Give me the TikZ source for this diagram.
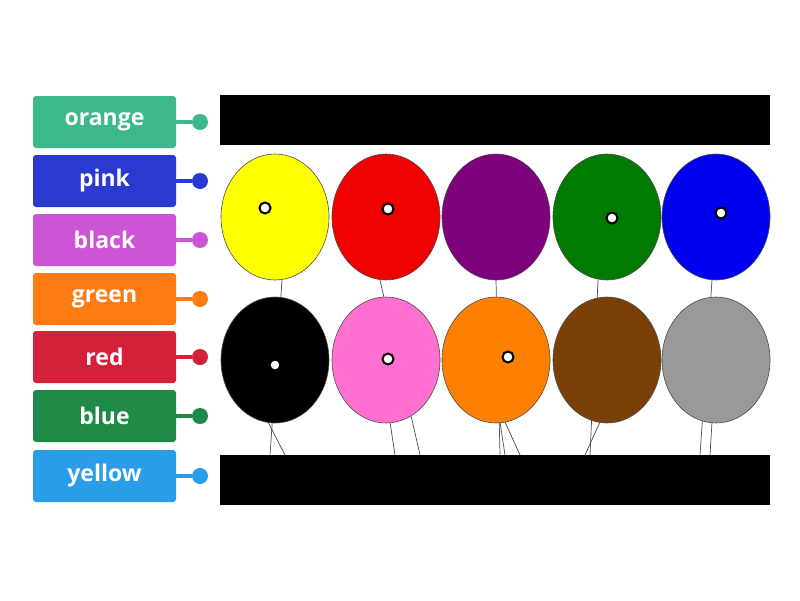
\documentclass[tikz,border=0pt]{standalone}
\usepackage{fontspec}
\setmainfont{Open Sans}
\begin{document}
\begin{tikzpicture}[x=1pt,y=-1pt,
 lab/.style={rounded corners=3pt,minimum width=143pt,minimum height=52pt,text=white,font=\bfseries\fontsize{23}{24}\selectfont},
 hole/.style={circle,draw=black,fill=white,line width=2pt,minimum size=11pt,inner sep=0pt},
 str/.style={black!70,line width=0.7pt}]
\useasboundingbox (0,0) rectangle (800,600);
\fill[white] (0,0) rectangle (800,600);
\foreach \n/\t/\c/\y in {a/orange/3BB98A/122,b/pink/2A3AD0/181,c/black/CC55D6/240,d/green/FF7B14/299,e/red/D4203A/357,f/blue/1F8A48/416,g/yellow/2A9DE8/476}{
 \definecolor{c\n}{HTML}{\c}
 \node[lab,fill=c\n] (l\n) at (104.5,\y) {\t};
 \node[circle,fill=c\n,minimum size=16pt,inner sep=0pt] (d\n) at (200,\y) {};
 \draw[c\n,line width=4pt] (l\n.east) -- (d\n);
}
\foreach \xa/\xb in {282/270,380/420,496/500,598/590,712/700}{\draw[str] (\xa,280) -- (\xb,455);}
\foreach \xa/\xb in {268/285,390/395,500/505,600/585,712/710}{\draw[str] (\xa,422) -- (\xb,455);}
\draw[str] (505,422) -- (520,455);
\foreach \x/\y/\c [count=\i] in {275/217/FFFF00,386/217/F00000,496/217/7D007D,607/217/007A00,716/217/0000F0,
 275/360/000000,386/360/FF70D0,496/360/FF8000,607/360/7A4008,716/360/999999}{
 \definecolor{bc\i}{HTML}{\c}
 \fill[bc\i,draw=black!70,line width=0.6pt] (\x,\y) ellipse (54 and 63);
}
\fill[black] (220,95) rectangle (770,145);
\fill[black] (220,455) rectangle (770,505);
\foreach \x/\y [count=\i] in {265/208,388/209,612/218,721/213,275/365,388/359,508/357}{\node[hole] (h\i) at (\x,\y) {};}
\end{tikzpicture}
\end{document}
